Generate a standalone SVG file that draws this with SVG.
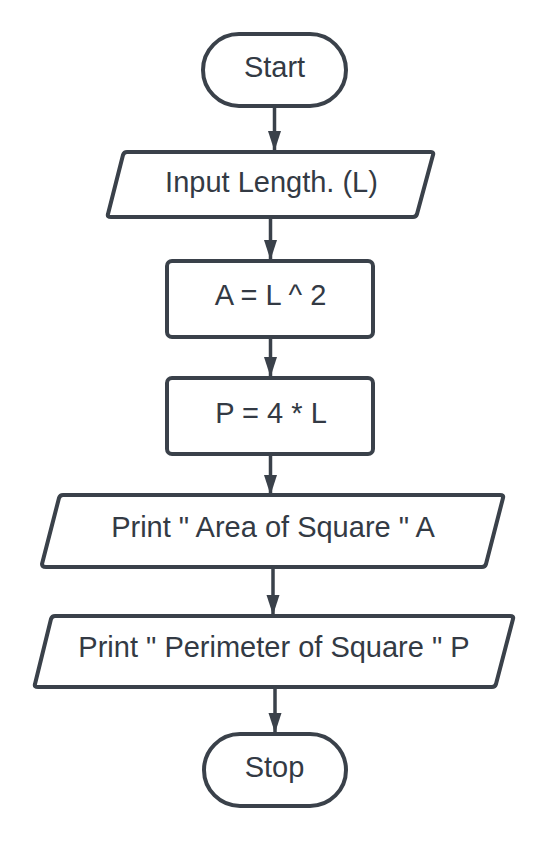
<svg xmlns="http://www.w3.org/2000/svg" width="550" height="841" viewBox="0 0 550 841">
<style>
.s{fill:#ffffff;stroke:#3a414a;stroke-width:4;stroke-linejoin:round}
.t{font-family:"Liberation Sans",Arial,sans-serif;font-size:29px;fill:#333a44;text-anchor:middle}
.c{stroke:#3a414a;stroke-width:3.5;fill:none}
</style>
<defs>
<marker id="ah" markerUnits="userSpaceOnUse" markerWidth="20" markerHeight="14" refX="19" refY="7" orient="auto" viewBox="0 0 20 14">
<path d="M0,0.5 L20,7 L0,13.5 Z" fill="#3a414a"/>
</marker>
</defs>
<rect width="550" height="841" fill="#ffffff"/>
<g id="connectors">
<line class="c" x1="274.5" y1="106" x2="274.5" y2="150" marker-end="url(#ah)"/>
<line class="c" x1="270.5" y1="217" x2="270.5" y2="259" marker-end="url(#ah)"/>
<line class="c" x1="270.5" y1="337" x2="270.5" y2="376" marker-end="url(#ah)"/>
<line class="c" x1="270.5" y1="454" x2="270.5" y2="494" marker-end="url(#ah)"/>
<line class="c" x1="273" y1="567" x2="273" y2="614" marker-end="url(#ah)"/>
<line class="c" x1="275" y1="687" x2="275" y2="732" marker-end="url(#ah)"/>
</g>
<g id="start">
<rect class="s" x="203" y="34" width="143" height="72" rx="36" ry="36"/>
<text class="t" x="274.5" y="77">Start</text>
</g>
<g id="input">
<path class="s" d="M127,152 L431,152 Q434,152 433,155 L417,214 Q416,217 413,217 L111,217 Q107,217 108,214 L123,155 Q124,152 127,152 Z"/>
<text class="t" x="271.5" y="192">Input Length. (L)</text>
</g>
<g id="area">
<rect class="s" x="167" y="261" width="206" height="76" rx="5" ry="5"/>
<text class="t" x="270.5" y="305">A = L ^ 2</text>
</g>
<g id="perim">
<rect class="s" x="167" y="378" width="206" height="76" rx="5" ry="5"/>
<text class="t" x="271" y="423">P = 4 * L</text>
</g>
<g id="printArea">
<path class="s" d="M63,495 L500,495 Q504,495 503,498 L486,564 Q485,567 482,567 L46,567 Q42,567 42,564 L59,498 Q60,495 63,495 Z"/>
<text class="t" x="273" y="537">Print " Area of Square " A</text>
</g>
<g id="printPerim">
<path class="s" d="M55,616 L510,616 Q514,616 513,619 L496,684 Q495,687 492,687 L38,687 Q34,687 35,684 L51,619 Q52,616 55,616 Z"/>
<text class="t" x="274" y="657">Print " Perimeter of Square " P</text>
</g>
<g id="stop">
<rect class="s" x="204" y="734" width="142" height="72" rx="36" ry="36"/>
<text class="t" x="274.5" y="777">Stop</text>
</g>
</svg>
